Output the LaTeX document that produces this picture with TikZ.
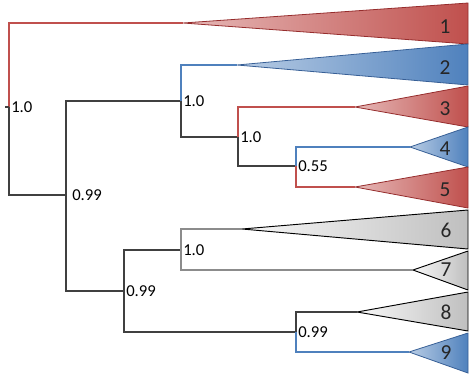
\documentclass[tikz,border=0pt]{standalone}
\usepackage{fontspec}
\setmainfont{Carlito}
\definecolor{cladered}{RGB}{192,80,77}
\definecolor{cladeblue}{RGB}{79,129,189}
\definecolor{edgered}{RGB}{150,45,45}
\definecolor{edgeblue}{RGB}{55,95,150}
\definecolor{branchdark}{RGB}{64,64,64}
\definecolor{branchgray}{RGB}{140,140,140}
\tikzset{
	branch/.style={line width=0.8pt,draw=branchdark},
	support/.style={anchor=west,inner sep=1.5pt,font=\fontsize{12.5}{14}\selectfont},
	cladenum/.style={font=\fontsize{16}{18}\selectfont,text=black!85},
	redclade/.style={left color=cladered!40,right color=cladered,draw=edgered,line width=0.6pt},
	blueclade/.style={left color=cladeblue!40,right color=cladeblue,draw=edgeblue,line width=0.6pt},
	grayclade/.style={left color=black!3,right color=black!25,draw=black,line width=0.7pt}
}
\begin{document}
\begin{tikzpicture}[x=0.75pt,y=-0.75pt]
				\useasboundingbox (0,0) rectangle (474,379);
				%clade apexes
				\coordinate (t1) at (183,23);
				\coordinate (t2) at (237,65);
				\coordinate (t3) at (355,107);
				\coordinate (t4) at (410,147);
				\coordinate (t5) at (355,187);
				\coordinate (t6) at (242,229);
				\coordinate (t7) at (413,270);
				\coordinate (t8) at (357,312);
				\coordinate (t9) at (409,352);
				%inner nodes
				\coordinate (root) at (9,107);
				\coordinate (stub) at (5,107);
				\coordinate (n1) at (66,195);
				\coordinate (n2) at (181,101);
				\coordinate (n3) at (238,137);
				\coordinate (n4) at (296,166);
				\coordinate (n5) at (124,291);
				\coordinate (n6) at (181,250);
				\coordinate (n7) at (296,332);
				%clades
				\shadedraw[redclade] (t1) -- (468,3) -- (468,44) -- cycle;
				\shadedraw[blueclade] (t2) -- (468,44) -- (468,85) -- cycle;
				\shadedraw[redclade] (t3) -- (468,86) -- (468,127) -- cycle;
				\shadedraw[blueclade] (t4) -- (468,127) -- (468,167) -- cycle;
				\shadedraw[redclade] (t5) -- (468,167) -- (468,208) -- cycle;
				\shadedraw[grayclade] (t6) -- (468,210) -- (468,249) -- cycle;
				\shadedraw[grayclade] (t7) -- (468,251) -- (468,290) -- cycle;
				\shadedraw[grayclade] (t8) -- (468,292) -- (468,331) -- cycle;
				\shadedraw[blueclade] (t9) -- (468,333) -- (468,373) -- cycle;
				\node[cladenum] (l1) at (445,27) {1};
				\node[cladenum] (l2) at (445,68) {2};
				\node[cladenum] (l3) at (445,109) {3};
				\node[cladenum] (l4) at (445,149) {4};
				\node[cladenum] (l5) at (445,190) {5};
				\node[cladenum] (l6) at (446,230) {6};
				\node[cladenum] (l7) at (446,270) {7};
				\node[cladenum] (l8) at (446,312) {8};
				\node[cladenum] (l9) at (446,353) {9};
				%branches
				\draw[branch,draw=cladered] (root) |- (t1);
				\draw[branch] (root) |- (n1);
				\draw[branch] (stub) -- (root);
				\draw[branch] (n1) |- (n2);
				\draw[branch] (n1) |- (n5);
				\draw[branch,draw=cladeblue] (n2) |- (t2);
				\draw[branch] (n2) |- (n3);
				\draw[branch,draw=cladered] (n3) |- (t3);
				\draw[branch] (n3) |- (n4);
				\draw[branch,draw=cladeblue] (n4) |- (t4);
				\draw[branch,draw=cladered] (n4) |- (t5);
				\draw[branch] (n5) |- (n6);
				\draw[branch] (n5) |- (n7);
				\draw[branch,draw=branchgray] (n6) |- (t6);
				\draw[branch,draw=branchgray] (n6) |- (t7);
				\draw[branch] (n7) |- (t8);
				\draw[branch,draw=cladeblue] (n7) |- (t9);
				%support values
				\node[support] (s0) at (root) {1.0};
				\node[support] (s1) at ([xshift=3]n1) {0.99};
				\node[support] (s2) at (n2) {1.0};
				\node[support] (s3) at (n3) {1.0};
				\node[support] (s4) at (n4) {0.55};
				\node[support] (s5) at (n5) {0.99};
				\node[support] (s6) at (n6) {1.0};
				\node[support] (s7) at (n7) {0.99};
\end{tikzpicture}
\end{document}
